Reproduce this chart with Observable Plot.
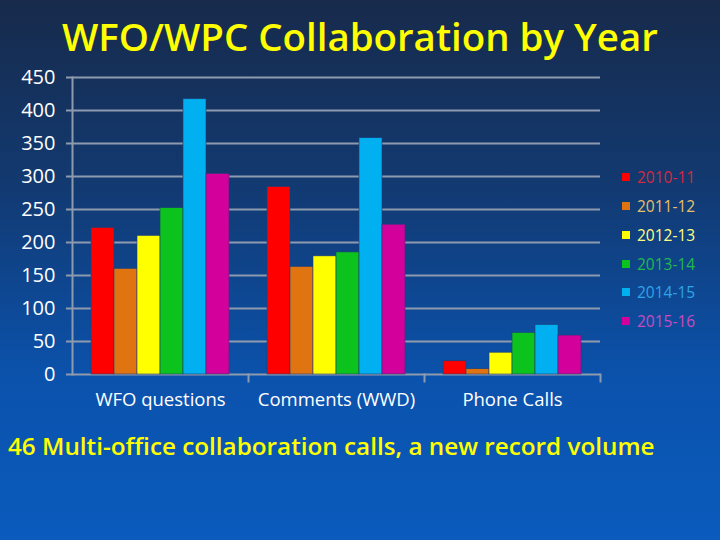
<!DOCTYPE html>
<html>
<head>
<meta charset="utf-8">
<script src="https://cdn.jsdelivr.net/npm/d3@7"></script>
<script src="https://cdn.jsdelivr.net/npm/@observablehq/plot@0.6"></script>
<style>
  html, body { margin: 0; padding: 0; }
  body {
    width: 720px; height: 540px; overflow: hidden; position: relative;
    background: linear-gradient(to bottom, #172a4b 0%, #123a72 35%, #0b52ac 70%, #0a5bbd 100%);
    font-family: "Open Sans", sans-serif;
  }
  #chart { position: absolute; left: 0; top: 60px; }
  #overlay { position: absolute; left: 0; top: 0; pointer-events: none; }
</style>
</head>
<body>
<div id="chart"></div>
<svg id="overlay" width="720" height="540"></svg>
<script>
// ---- data ----
const categories = ["WFO questions", "Comments (WWD)", "Phone Calls"];
const years = ["2010-11", "2011-12", "2012-13", "2013-14", "2014-15", "2015-16"];
const wfoQuestions = [222, 160, 210, 252, 417, 304];
const commentsWWD  = [284, 163, 179, 185, 358, 227];
const phoneCalls   = [20, 8, 33, 63, 75, 59];
const yTicks = [0, 50, 100, 150, 200, 250, 300, 350, 400, 450];
const seriesColors = ["#ff0000", "#e07410", "#ffff00", "#0cc21c", "#00b0f0", "#d4009c"];
const legendTextColors = ["#d42a40", "#e8c068", "#ffff80", "#24b84c", "#2ea4ea", "#c84cc0"];
const titleText = "WFO/WPC Collaboration by Year";
const captionText = "46 Multi-office collaboration calls, a new record volume";

const valuesByCategory = [wfoQuestions, commentsWWD, phoneCalls];
const data = [];
categories.forEach((c, i) => years.forEach((y, j) => data.push({category: c, year: y, value: valuesByCategory[i][j]})));

const gray = "#8e9aad";

const chart = Plot.plot({
  width: 610,
  height: 360,
  marginLeft: 72,
  marginRight: 10,
  marginTop: 17,
  marginBottom: 46,
  style: {background: "transparent", fontFamily: "Open Sans, sans-serif"},
  fx: {domain: categories, padding: 0, label: null},
  x: {domain: years, paddingInner: 0, paddingOuter: 0.79, axis: null},
  y: {domain: [0, 450], label: null},
  color: {domain: years, range: seriesColors},
  marks: [
    Plot.gridY({ticks: yTicks, stroke: gray, strokeOpacity: 1, strokeWidth: 2}),
    Plot.frame({anchor: "left", facetAnchor: "left", stroke: gray, strokeWidth: 2}),
    Plot.frame({anchor: "right", insetTop: 297, insetBottom: -7, stroke: gray, strokeWidth: 2}),
    Plot.barY(data, {fx: "category", x: "year", y: "value", fill: "year", stroke: "#1b3f78", strokeWidth: 0.6}),
    Plot.axisY({ticks: yTicks, tickSize: 6, tickPadding: 11, stroke: gray, strokeWidth: 2, fill: "white", fontSize: 20, fontWeight: 500, label: null}),
    Plot.axisFx({anchor: "bottom", tickSize: 0, tickPadding: 18, fill: "white", fontSize: 18.5, fontWeight: 500, label: null})
  ]
});
document.getElementById("chart").appendChild(chart);

// ---- overlay texts: title, caption, legend ----
const ov = d3.select("#overlay");
function fitText(x, y, w, text, fill, weight, size) {
  const t = ov.append("text").attr("x", x).attr("y", y).attr("fill", fill)
    .attr("font-family", "Open Sans, sans-serif").attr("font-weight", weight)
    .attr("font-size", size).text(text);
  const len = t.node().getComputedTextLength();
  if (w) t.attr("font-size", size * w / len);
  return t;
}
fitText(62, 51, 596, titleText, "#ffff00", 600, 34);
fitText(8, 455, 647, captionText, "#ffff00", 600, 24);

const legendY = [177, 206, 235, 264, 292, 321];
years.forEach((yr, i) => {
  ov.append("rect").attr("x", 622).attr("y", legendY[i] - 4).attr("width", 8).attr("height", 8).attr("fill", seriesColors[i]);
  ov.append("text").attr("x", 637).attr("y", legendY[i] + 6).attr("fill", legendTextColors[i])
    .attr("font-family", "Open Sans, sans-serif").attr("font-size", 15.5).text(yr);
});
</script>
</body>
</html>
